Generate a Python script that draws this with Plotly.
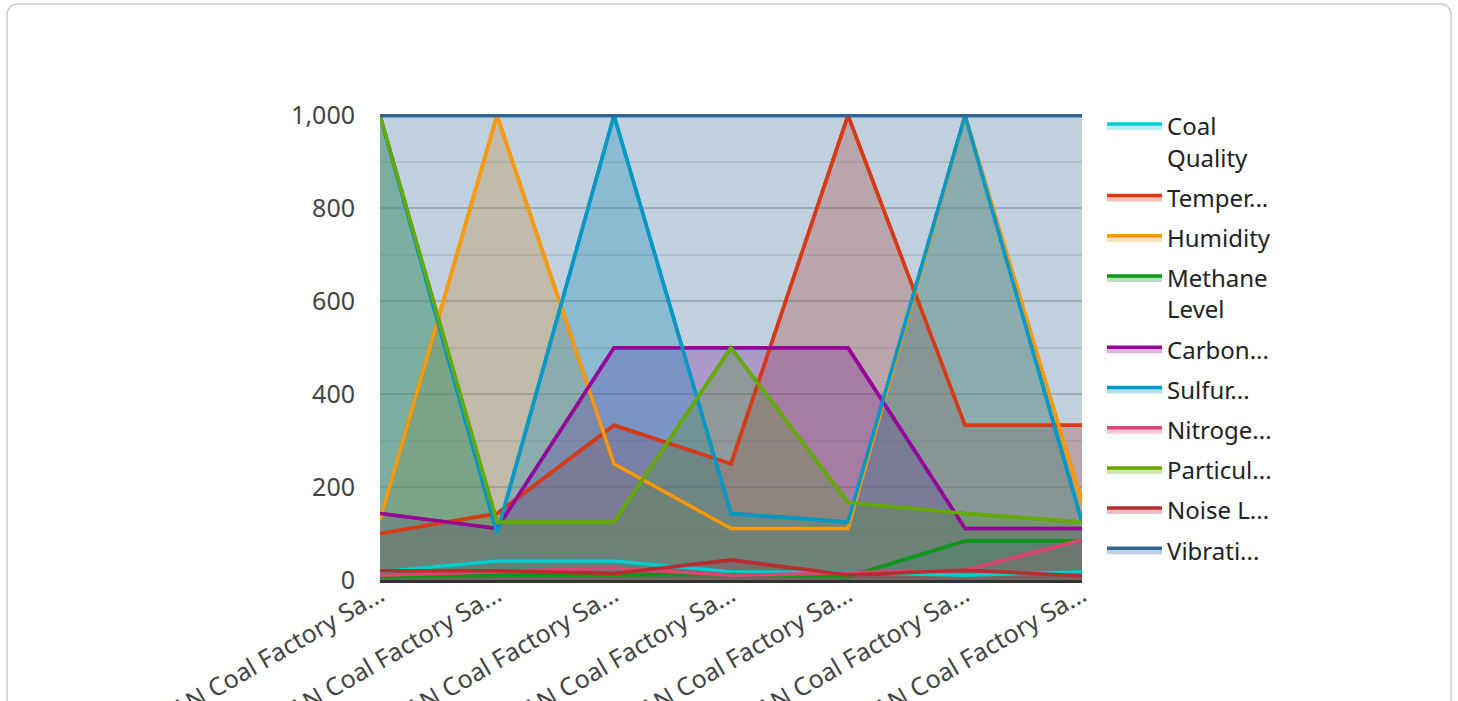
import plotly.graph_objects as go

categories = ["TAIYUAN Coal Factory Sa..."] * 7
x_idx = list(range(len(categories)))

series_names = ["Coal<br>Quality", "Temper...", "Humidity", "Methane<br>Level", "Carbon...",
                "Sulfur...", "Nitroge...", "Particul...", "Noise L...", "Vibrati..."]

coal_quality = [18, 41, 41, 18, 16, 10, 18]
temperature = [100, 143, 333, 250, 1000, 333, 333]
humidity = [129, 1000, 250, 111, 111, 1000, 167]
methane = [6, 10, 10, 12, 7, 84, 84]
carbon = [143, 111, 500, 500, 500, 111, 111]
sulfur = [1000, 100, 1000, 143, 125, 1000, 125]
nitrogen = [10, 18, 26, 10, 16, 21, 86]
particulate = [1000, 125, 125, 500, 167, 143, 125]
noise = [20, 20, 14, 43, 11, 21, 9]
vibration = [1000, 1000, 1000, 1000, 1000, 1000, 1000]

all_values = [coal_quality, temperature, humidity, methane, carbon,
              sulfur, nitrogen, particulate, noise, vibration]

colors = ["#00CED1", "#DC3912", "#FF9900", "#109618", "#990099",
          "#0099C6", "#DD4477", "#66AA00", "#B82E2E", "#316395"]

def rgba(hexc, a):
    h = hexc.lstrip("#")
    r, g, b = int(h[0:2], 16), int(h[2:4], 16), int(h[4:6], 16)
    return f"rgba({r},{g},{b},{a})"

W, H = 1458, 701
ML, MR, MT, MB = 380, 376, 114, 121

fig = go.Figure()
# fills (with legend)
for i, (name, vals, c) in enumerate(zip(series_names, all_values, colors)):
    fig.add_trace(go.Scatter(x=x_idx, y=vals, name=name, mode="lines",
                             legendgroup=f"g{i}",
                             line=dict(color=c, width=3.5), fill="tozeroy",
                             fillcolor=rgba(c, 0.3), hoverinfo="skip"))
# lines on top
for i, (name, vals, c) in enumerate(zip(series_names, all_values, colors)):
    fig.add_trace(go.Scatter(x=x_idx, y=vals, name=name, mode="lines",
                             legendgroup=f"g{i}",
                             line=dict(color=c, width=3.5), showlegend=False))

pw = W - ML - MR
ph = H - MT - MB
bx0 = (7 - ML) / pw
bx1 = (1451 - ML) / pw
by1 = (H - MB - 4) / ph
by0 = (H - MB - 720) / ph
rx = 12 / pw
ry = 12 / ph
path = (f"M {bx0+rx},{by1} L {bx1-rx},{by1} Q {bx1},{by1} {bx1},{by1-ry} "
        f"L {bx1},{by0+ry} Q {bx1},{by0} {bx1-rx},{by0} L {bx0+rx},{by0} "
        f"Q {bx0},{by0} {bx0},{by0+ry} L {bx0},{by1-ry} Q {bx0},{by1} {bx0+rx},{by1} Z")

fig.update_layout(
    width=W, height=H,
    margin=dict(l=ML, r=MR, t=MT, b=MB, autoexpand=False),
    paper_bgcolor="white", plot_bgcolor="white",
    font=dict(family="Noto Sans", size=25, color="#444444"),
    showlegend=True,
    legend=dict(x=722 / pw, y=1.0 + 10 / ph, xanchor="left", yanchor="top",
                font=dict(size=24, color="#222222"), tracegroupgap=6,
                itemwidth=55, bgcolor="rgba(0,0,0,0)", maxheight=600,
                valign="top"),
    xaxis=dict(range=[0, 6], tickvals=x_idx, ticktext=categories, tickangle=-30,
               automargin=False, ticklabelstandoff=-12,
               showgrid=False, zeroline=False, showline=True, linecolor="#333333",
               linewidth=3, ticks="", tickfont=dict(size=25, color="#444444")),
    yaxis=dict(range=[0, 1003], dtick=200, tickformat=",d", gridcolor="#cccccc",
               automargin=False,
               gridwidth=1.5, zeroline=False, showline=False, ticks="",
               ticklabelstandoff=24,
               minor=dict(dtick=100, showgrid=True, gridcolor="#e6e6e6", gridwidth=1.5),
               tickfont=dict(size=25, color="#444444")),
    shapes=[dict(type="path", xref="paper", yref="paper", path=path,
                 line=dict(color="#cccccc", width=1.5), layer="below")],
)

fig.write_html("out.html", config={"displayModeBar": False},
               post_script="document.body.style.margin='0px';document.body.style.overflow='hidden';")
